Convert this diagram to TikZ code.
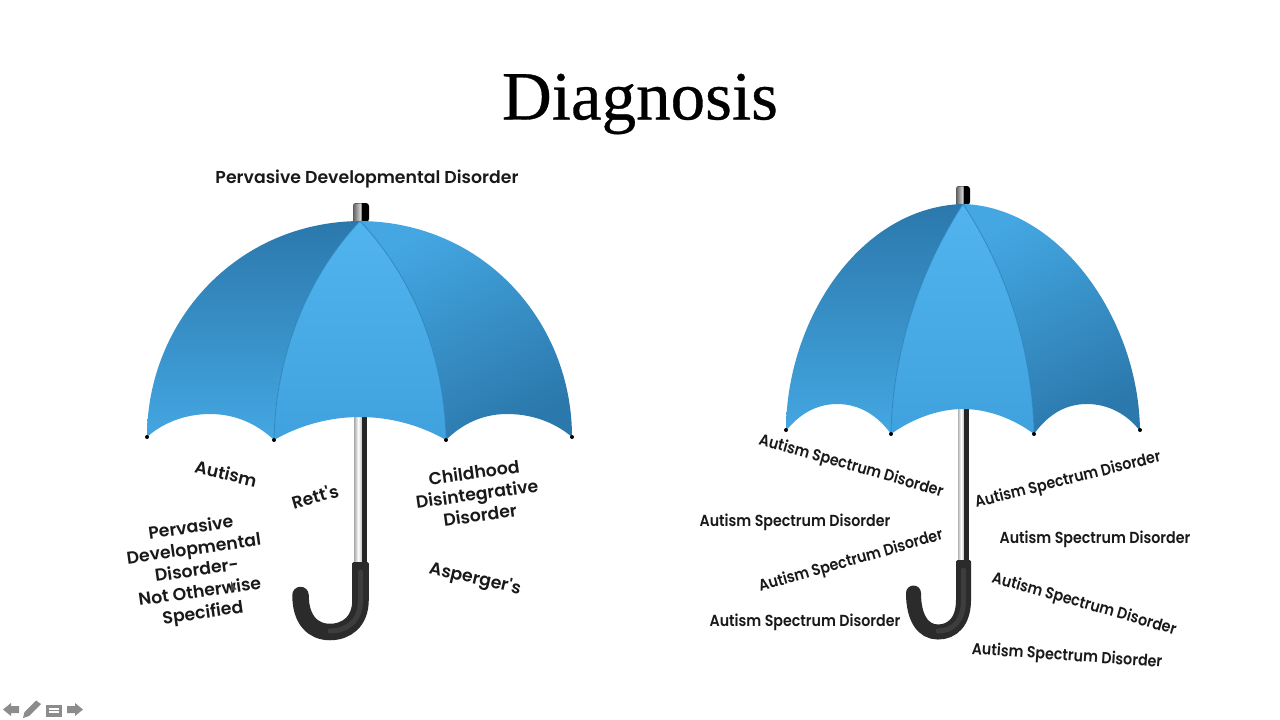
\documentclass[tikz,border=0pt]{standalone}
\usepackage{fontspec}
\setmainfont{Liberation Serif}
\newfontfamily\titlefont[FakeBold=0.5]{Liberation Serif}
\newfontfamily\gothic{Poppins SemiBold}
\newfontfamily\gothicn[FakeStretch=0.89]{Poppins SemiBold}
\definecolor{darkB}{HTML}{2B78AC}
\definecolor{midB}{HTML}{44A7E2}
\definecolor{lightB}{HTML}{52B4EE}
\definecolor{lowB}{HTML}{3FA2DE}
\definecolor{seam}{HTML}{2F88C0}
\definecolor{grip}{HTML}{2B2B2B}
\definecolor{tool}{HTML}{8C8C8C}
\tikzset{
  lab/.style={font=\gothic\fontsize{17.3}{21.5}\selectfont,text=black!90,inner sep=0pt,align=center,yshift=-1.5pt},
  labn/.style={font=\gothicn\fontsize{16}{20}\selectfont,text=black!90,inner sep=0pt,yshift=-1.5pt},
  seamline/.style={draw=seam,line width=0.8pt},
  handlein/.style={draw=black!76,line width=5pt,line cap=round},
  tipdot/.style={fill=black,circle,inner sep=0pt,minimum size=4pt},
  toolshape/.style={fill=tool,draw=none},
  shaftshade/.style={left color=black!30,right color=black!25,middle color=white}
}
\begin{document}
\begin{tikzpicture}[x=1pt,y=-1pt]
\useasboundingbox (0,0) rectangle (1280,720);
\fill[white] (0,0) rectangle (1280,720);

\node[font=\titlefont\fontsize{69}{69}\selectfont,inner sep=0pt] (title) at (640,104) {Diagnosis};

% ---------- left umbrella ----------
\fill[black,rounded corners=3pt] (353,222) -- (353,203) -- (369,203) -- (369,222) -- cycle;
\shade[left color=black!60,right color=black!10] (353.5,222) -- (353.5,205) -- (355,203.4) -- (361.5,203.4) -- (361.5,222) -- cycle;
\shade[shaftshade] (354.5,410) rectangle (362,566);
\fill[black!85] (362,410) rectangle (367,566);
\draw[draw=grip,line width=16.5pt,line cap=round] (360.5,600) .. controls (360.5,622) and (346,632) .. (330,632) .. controls (313,632) and (300.5,620) .. (300.5,595);
\fill[grip,rounded corners=1.5pt] (352.2,562) rectangle (368.8,602);
\draw[handlein] (360.5,572) -- (360.5,600) .. controls (360.5,622) and (346,631) .. (330,631);
% left panel
\shade[top color=darkB,bottom color=midB,middle color=darkB!50!midB]
  (360,221) .. controls (236,222) and (147,322) .. (147,437)
  .. controls (165,421) and (188,414) .. (210,414) .. controls (234,414) and (256,423) .. (274,440)
  .. controls (276,365) and (300,285) .. (360,221) -- cycle;
% right panel
\shade[top color=midB,bottom color=darkB,shading angle=28]
  (360,221) .. controls (484,222) and (572,322) .. (572,437)
  .. controls (553,421) and (530,414) .. (507,414) .. controls (484,414) and (463,423) .. (446,440)
  .. controls (444,365) and (420,285) .. (360,221) -- cycle;
% middle panel
\shade[top color=lightB,bottom color=lowB]
  (360,221) .. controls (300,285) and (276,365) .. (274,440)
  .. controls (300,425) and (330,417) .. (360,417) .. controls (390,417) and (420,425) .. (446,440)
  .. controls (444,365) and (420,285) .. (360,221) -- cycle;
\draw[seamline] (360,221) .. controls (300,285) and (276,365) .. (274,438);
\draw[seamline] (360,221) .. controls (420,285) and (444,365) .. (446,438);
\node[tipdot] (t1) at (147,437) {};
\node[tipdot] (t2) at (274,440) {};
\node[tipdot] (t3) at (446,440) {};
\node[tipdot] (t4) at (572,437) {};

% ---------- right umbrella ----------
\fill[black,rounded corners=3pt] (956,205) -- (956,186) -- (970,186) -- (970,205) -- cycle;
\shade[left color=black!60,right color=black!10] (956.5,205) -- (956.5,188) -- (958,186.4) -- (963.5,186.4) -- (963.5,205) -- cycle;
\shade[shaftshade] (958,400) rectangle (964,564);
\fill[black!85] (964,400) rectangle (968.5,564);
\draw[draw=grip,line width=15pt,line cap=round] (963.5,600) .. controls (963.5,622) and (952,632) .. (938,632) .. controls (923,632) and (913.5,618) .. (913.5,593);
\fill[grip,rounded corners=1.5pt] (956,560) rectangle (971,602);
\draw[handlein] (963.5,570) -- (963.5,600) .. controls (963.5,622) and (952,631) .. (938,631);
% left panel
\shade[top color=darkB,bottom color=midB,middle color=darkB!50!midB]
  (963,204) .. controls (860,207) and (786,320) .. (786,431)
  .. controls (799,414) and (817,404) .. (837,404) .. controls (860,404) and (878,416) .. (891,434)
  .. controls (893,355) and (917,275) .. (963,204) -- cycle;
% right panel
\shade[top color=midB,bottom color=darkB,shading angle=28]
  (963,204) .. controls (1060,207) and (1139,320) .. (1140,431)
  .. controls (1127,414) and (1108,404) .. (1087,404) .. controls (1064,404) and (1047,416) .. (1034,434)
  .. controls (1032,355) and (1010,275) .. (963,204) -- cycle;
% middle panel
\shade[top color=lightB,bottom color=lowB]
  (963,204) .. controls (917,275) and (893,355) .. (891,434)
  .. controls (912,419) and (938,409) .. (963,409) .. controls (988,409) and (1014,419) .. (1034,434)
  .. controls (1032,355) and (1010,275) .. (963,204) -- cycle;
\draw[seamline] (963,204) .. controls (917,275) and (893,355) .. (891,432);
\draw[seamline] (963,204) .. controls (1010,275) and (1032,355) .. (1034,432);
\node[tipdot] (r1) at (786,430) {};
\node[tipdot] (r2) at (891,434) {};
\node[tipdot] (r3) at (1034,434) {};
\node[tipdot] (r4) at (1140,430) {};

% ---------- left labels ----------
\node[lab] (head) at (367,177) {Pervasive Developmental Disorder};
\node[lab,rotate=-13] (autism) at (226,472) {Autism};
\node[lab,rotate=16] (rett) at (315,495) {Rett's};
\node[lab,rotate=8] (cdd) at (477,492) {Childhood\\Disintegrative\\Disorder};
\node[lab,rotate=-13] (asp) at (475,578) {Asperger's};
\node[lab,rotate=8] (pdd) at (197,570) {Pervasive\\Developmental\\Disorder-\\Not Otherwise\\Specified};
\fill[black!70] (231,581) -- (231,592) -- (233.5,589.5) -- (236.5,589.5) -- cycle;

% ---------- right labels ----------
\node[labn,rotate=-16] (a1) at (851,465) {Autism Spectrum Disorder};
\node[labn] (a2) at (795,521) {Autism Spectrum Disorder};
\node[labn,rotate=14] (a3) at (1068,479) {Autism Spectrum Disorder};
\node[labn] (a4) at (1095,538) {Autism Spectrum Disorder};
\node[labn,rotate=16] (a5) at (851,560) {Autism Spectrum Disorder};
\node[labn] (a6) at (805,621) {Autism Spectrum Disorder};
\node[labn,rotate=-16] (a7) at (1084,603) {Autism Spectrum Disorder};
\node[labn,rotate=-4] (a8) at (1067,655) {Autism Spectrum Disorder};

% ---------- toolbar ----------
\fill[toolshape] (3,709.5) -- (11,703) -- (11,706) -- (19,706) -- (19,713) -- (11,713) -- (11,716) -- cycle;
\fill[toolshape] (23,718) -- (24.5,712) -- (36,700.5) -- (41,704) -- (29,716) -- cycle;
\fill[toolshape] (46,705) rectangle (62,717);
\fill[white] (49,708) rectangle (59,709.5);
\fill[white] (49,711) rectangle (59,712.5);
\fill[toolshape] (83,709.5) -- (75,703) -- (75,706) -- (67,706) -- (67,713) -- (75,713) -- (75,716) -- cycle;
\end{tikzpicture}
\end{document}
